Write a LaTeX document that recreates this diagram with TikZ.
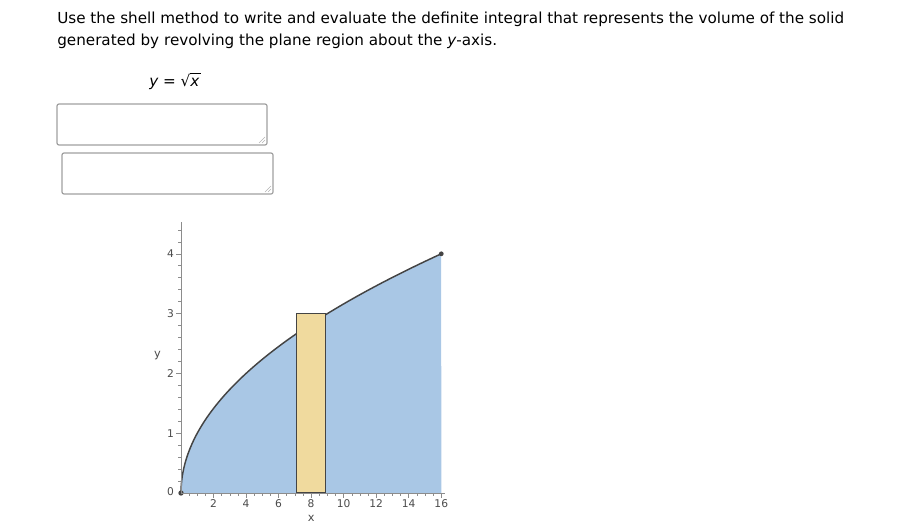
\documentclass[tikz,border=0pt]{standalone}
\usepackage{fontspec}
\setmainfont{DejaVu Sans}
\usetikzlibrary{positioning}

\definecolor{regionblue}{HTML}{A9C7E5}
\definecolor{shelltan}{HTML}{F0DA9E}
\definecolor{curvegray}{HTML}{444444}
\definecolor{axisgray}{HTML}{8C8C8C}
\definecolor{labelgray}{HTML}{4A4A4A}
\definecolor{boxgray}{HTML}{A0A0A0}

\tikzset{
    prompt/.style={anchor=base west, inner sep=0pt, font=\fontsize{11.4}{13}\selectfont},
    answerbox/.style={draw=boxgray, line width=0.9pt, rounded corners=1.5pt},
    grip/.style={draw=boxgray!80, line width=0.5pt},
    ticklabel/.style={inner sep=1pt, text=labelgray, font=\fontsize{8}{9}\selectfont},
    axislabel/.style={inner sep=1pt, text=labelgray, font=\fontsize{8.5}{9}\selectfont}
}

\begin{document}
\begin{tikzpicture}[x=0.75pt, y=-0.75pt]
\useasboundingbox (0,0) rectangle (906,528);

\node[prompt] (line1) at (57,24) {Use the shell method to write and evaluate the definite integral that represents the volume of the solid};
\node[prompt] (line2) at (57,46) {generated by revolving the plane region about the {\itshape y}-axis.};
\node[prompt] (eqn) at (149,87) {{\itshape y} = √$\overline{\vphantom{\hbox{√}}\hbox{\itshape x\kern1pt}}$};

% answer boxes
\draw[answerbox] (57,104) rectangle (267,145);
\draw[grip] (259,143) -- (265,137) (262,143) -- (265,140);
\draw[answerbox] (62,153) rectangle (273,194);
\draw[grip] (265,192) -- (271,186) (268,192) -- (271,189);

\begin{scope}[shift={(181,493)}, x=12.2pt, y=44.85pt]
% region and shell
\fill[regionblue] (0,0) -- plot[domain=0:4, samples=80] ({\x*\x},{\x}) -- (16,0) -- cycle;
\draw[curvegray, line width=1.1pt] plot[domain=0:4, samples=80] ({\x*\x},{\x});
\fill[curvegray] (0,0) circle (2pt) (16,4) circle (1.8pt);
\draw[curvegray, fill=shelltan, line width=0.9pt] (7.1,0) rectangle (8.9,3);

% axes
\draw[axisgray, line width=0.5pt] (0,0) -- (0,4.53);
\draw[axisgray, line width=0.5pt] (0,0) -- (16.2,0);
\foreach \y in {0.2,0.4,...,4.5}
    \draw[axisgray, line width=0.4pt] (0,\y) -- ++(-2pt,0);
\foreach \y in {1,...,4}
    \draw[axisgray, line width=0.4pt] (0,\y) -- ++(-4pt,0);
\foreach \x in {0.5,1,...,16}
    \draw[axisgray, line width=0.4pt] (\x,0) -- ++(0,-2pt);
\foreach \x in {2,4,...,16}
    \draw[axisgray, line width=0.4pt] (\x,0) -- ++(0,-3.5pt);

\node[ticklabel] (ylab0) at (-0.65,0.02) {0};
\foreach \y in {1,...,4}
    \node[ticklabel] (ylab\y) at (-0.65,\y) {\y};
\foreach \x in {2,4,...,16}
    \node[ticklabel] (xlab\x) at (\x,-0.17) {\x};
\node[axislabel] (yname) at (-1.45,2.3) {y};
\node[axislabel] (xname) at (8,-0.42) {x};
\end{scope}
\end{tikzpicture}
\end{document}
